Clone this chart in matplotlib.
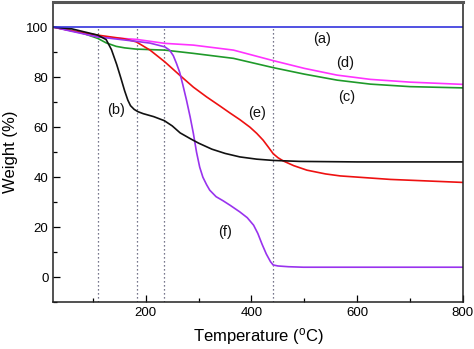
import matplotlib
matplotlib.use("Agg")
import matplotlib.pyplot as plt
from matplotlib.ticker import MultipleLocator

plt.rcParams['font.family'] = ['Liberation Sans', 'DejaVu Sans']
plt.rcParams['mathtext.fontset'] = 'custom'
plt.rcParams['mathtext.rm'] = 'Liberation Sans'

# TGA curves, temperature in degC and residual weight in %
t_a = [25, 800]
w_a = [100, 100]

t_b = [25, 60, 109, 125, 135, 145, 153, 160, 166, 171, 178, 185, 195, 215, 235, 250, 265, 285, 300, 325, 350, 378, 410, 441, 492, 600, 800]
w_b = [100, 99.3, 96.8, 95, 91, 85, 79.5, 74.5, 70.8, 68.6, 67.1, 66.2, 65.4, 64.2, 62.6, 60.5, 57.7, 55.3, 53.6, 51.2, 49.5, 48.1, 47.2, 46.7, 46.3, 46.1, 46.1]

t_c = [25, 56, 80, 109, 125, 144, 160, 182, 236, 290, 366, 441, 500, 562, 625, 700, 800]
w_c = [100, 98.8, 97.6, 95.5, 93.7, 92.3, 91.7, 91.2, 90.8, 89.5, 87.5, 83.8, 81.2, 78.8, 77.2, 76.2, 75.7]

t_d = [25, 60, 109, 182, 236, 290, 366, 441, 500, 562, 625, 700, 800]
w_d = [100, 98.5, 96.1, 95.1, 93.5, 92.8, 90.8, 86.6, 83.5, 80.8, 79.1, 78.0, 77.1]

t_e = [25, 60, 109, 160, 182, 208, 236, 264, 290, 315, 340, 359, 378, 397, 410, 422, 432, 441, 450, 460, 480, 505, 540, 568, 663, 800]
w_e = [100, 98.5, 96.8, 95.3, 94.1, 90.8, 86.1, 80.8, 76, 72.1, 68.5, 65.7, 63, 60, 57.5, 54.8, 52, 49.4, 47.8, 46.5, 44.6, 42.8, 41.3, 40.5, 39.1, 37.9]

t_f = [25, 60, 109, 182, 208, 236, 245, 252, 258, 264, 270, 277, 284, 290, 296, 302, 308, 315, 321, 333, 346, 360, 378, 392, 404, 412, 420, 428, 436, 441, 450, 470, 498, 800]
w_f = [100, 98.3, 96.1, 94.3, 93.6, 92.1, 90.8, 88.6, 85.5, 82, 77, 70.8, 64, 57.5, 50, 44, 40, 37, 34.8, 32.2, 30.6, 28.7, 26.1, 23.8, 20.8, 17.5, 13.2, 9.3, 6.2, 4.9, 4.5, 4.2, 4.0, 4.0]

# dotted guides at the decomposition steps
guide_t = [110, 184, 235, 441]

labels = ['(a)', '(b)', '(c)', '(d)', '(e)', '(f)']
label_xy = [(533, 95.3), (144, 66.8), (580, 72.1), (577, 85.5), (411, 65.5), (350, 18.1)]

fig = plt.figure(figsize=(4.74, 3.49), dpi=100)
ax = fig.add_axes([0.1125, 0.134, 0.864, 0.86])

for t in guide_t:
    ax.plot([t, t], [-10, 100], color='#4a4a66', ls=(0, (1, 2.2)), lw=0.9)

style = dict(lw=1.2, solid_joinstyle='round', solid_capstyle='round')
ax.plot(t_c, w_c, color='#1f9a2a', **style)
ax.plot(t_d, w_d, color='#ff33ff', **style)
ax.plot(t_e, w_e, color='#ee1111', **style)
ax.plot(t_f, w_f, color='#9933ee', **style)
ax.plot(t_b, w_b, color='#111111', **style)
ax.plot(t_a, w_a, color='#3333dd', **style)

for lab, (x, y) in zip(labels, label_xy):
    ax.text(x, y, lab, fontsize=10.5, ha='center', va='center', color='#111111')

ax.set_xlim(25, 800)
ax.set_ylim(-10, 110)
ax.xaxis.set_major_locator(MultipleLocator(200))
ax.xaxis.set_minor_locator(MultipleLocator(100))
ax.yaxis.set_major_locator(MultipleLocator(20))
ax.yaxis.set_minor_locator(MultipleLocator(10))
ax.tick_params(which='both', direction='in', top=False, right=False, labelsize=9.5)
ax.tick_params(which='major', length=5, width=0.9)
ax.tick_params(which='minor', length=3, width=0.9)
for s in ax.spines.values():
    s.set_linewidth(1.1)
    s.set_color('#222222')
ax.spines['top'].set_linewidth(2.2)
ax.spines['top'].set_color('#555555')

ax.set_xlabel(r'Temperature ($\mathregular{^o}$C)', fontsize=12, labelpad=5)
ax.set_ylabel('Weight (%)', fontsize=12, labelpad=6)

fig.savefig('out.png', dpi=100)
